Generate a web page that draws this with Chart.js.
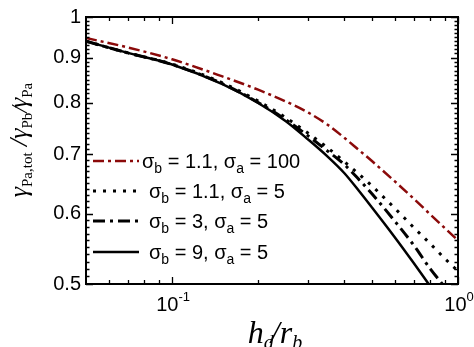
<!DOCTYPE html>
<html>
<head>
<meta charset="utf-8">
<script src="https://cdn.jsdelivr.net/npm/chart.js@4/dist/chart.umd.min.js"></script>
<style>
  html, body { margin: 0; padding: 0; background: #fff; }
  #wrap { width: 474px; height: 347px; }
</style>
</head>
<body>
<div id="wrap"><canvas id="chart"></canvas></div>
<script>
// h_d / r_b values (log axis)
const xVals = [0.05, 0.07, 0.1, 0.15, 0.2, 0.25, 0.3, 0.35, 0.4, 0.45, 0.5, 0.6, 0.7, 0.8, 0.9, 1.0];
// ratio curves
const sb11_sa100 = [0.947, 0.924, 0.896, 0.857, 0.828, 0.803, 0.780, 0.756, 0.731, 0.708, 0.688, 0.653, 0.624, 0.599, 0.578, 0.560];
const sb11_sa5   = [0.939, 0.911, 0.885, 0.843, 0.804, 0.770, 0.739, 0.712, 0.687, 0.665, 0.645, 0.609, 0.579, 0.555, 0.534, 0.517];
const sb3_sa5    = [0.939, 0.911, 0.884, 0.841, 0.801, 0.766, 0.734, 0.706, 0.682, 0.656, 0.632, 0.589, 0.553, 0.520, 0.496, null];
const sb9_sa5    = [0.939, 0.911, 0.884, 0.840, 0.800, 0.763, 0.727, 0.696, 0.667, 0.637, 0.610, 0.565, 0.528, 0.497, null, null];

const yTicks = [0.5, 0.6, 0.7, 0.8, 0.9, 1];
const xMajor = [0.1, 1];
const xMinor = [0.06, 0.07, 0.08, 0.09, 0.2, 0.3, 0.4, 0.5, 0.6, 0.7, 0.8, 0.9];

const legendRows = [
  { b: '1.1', a: '100' },
  { b: '1.1', a: '5' },
  { b: '3', a: '5' },
  { b: '9', a: '5' }
];

function pts(ys) {
  const out = [];
  xVals.forEach((x, i) => { if (ys[i] != null) out.push({ x: x, y: ys[i] }); });
  return out;
}

// draw a run of text pieces with their own font / vertical offset
function richText(ctx, x, y, parts, align) {
  let w = 0;
  parts.forEach(p => { ctx.font = p.font; w += ctx.measureText(p.t).width + (p.kern || 0); });
  let cx = align === 'center' ? x - w / 2 : x;
  ctx.textAlign = 'left';
  ctx.textBaseline = 'alphabetic';
  parts.forEach(p => {
    ctx.font = p.font;
    ctx.fillText(p.t, cx, y + (p.dy || 0));
    cx += ctx.measureText(p.t).width + (p.kern || 0);
  });
  return w;
}

const sans = sz => sz + 'px Arial, "Liberation Sans", sans-serif';
const serifI = sz => 'italic ' + sz + 'px "Liberation Serif", "Times New Roman", serif';
const serif = sz => sz + 'px "Liberation Serif", "Times New Roman", serif';

const decor = {
  id: 'decor',
  afterDraw(chart) {
    const ctx = chart.ctx;
    const a = chart.chartArea;
    const xs = chart.scales.x, ys = chart.scales.y;
    ctx.save();
    ctx.strokeStyle = '#000';
    ctx.fillStyle = '#000';

    // inward ticks on all four sides
    ctx.lineWidth = 1.3;
    ctx.beginPath();
    for (let i = 50; i <= 100; i++) {
      const py = Math.round(ys.getPixelForValue(i / 100)) + 0.5;
      const len = (i % 10 === 0) ? 7 : 3.5;
      ctx.moveTo(a.left, py); ctx.lineTo(a.left + len, py);
      ctx.moveTo(a.right, py); ctx.lineTo(a.right - len, py);
    }
    xMajor.concat(xMinor).forEach(v => {
      const px = Math.round(xs.getPixelForValue(v)) + 0.5;
      const len = xMajor.includes(v) ? 7 : 4;
      ctx.moveTo(px, a.bottom); ctx.lineTo(px, a.bottom - len);
      ctx.moveTo(px, a.top); ctx.lineTo(px, a.top + len);
    });
    ctx.stroke();

    // frame
    ctx.lineWidth = 2;
    ctx.strokeRect(a.left, a.top, a.right - a.left, a.bottom - a.top);

    // x tick labels 10^-1, 10^0
    const sup = ['-1', '0'];
    xMajor.forEach((v, i) => {
      const px = xs.getPixelForValue(v);
      richText(ctx, px + 1, 311, [
        { t: '10', font: sans(20) },
        { t: sup[i], font: sans(13), dy: -10 }
      ], 'center');
    });

    // x title h_d / r_b
    richText(ctx, (a.left + a.right) / 2 + 3, 343, [
      { t: 'h', font: serifI(32) },
      { t: 'd', font: serifI(20), dy: 6, kern: -3 },
      { t: '/', font: serifI(32) },
      { t: 'r', font: serifI(32) },
      { t: 'b', font: serifI(20), dy: 6 }
    ], 'center');

    // y title
    ctx.save();
    ctx.translate(27, 140);
    ctx.rotate(-Math.PI / 2);
    richText(ctx, 0, 0, [
      { t: 'γ', font: serifI(26) },
      { t: 'Pa,tot', font: serif(15), dy: 5 },
      { t: ' /', font: serifI(26) },
      { t: 'γ', font: serifI(26) },
      { t: 'Pb', font: serif(15), dy: 5 },
      { t: '/', font: serifI(24), kern: -2 },
      { t: 'γ', font: serifI(26) },
      { t: 'Pa', font: serif(15), dy: 5 }
    ], 'center');
    ctx.restore();

    // legend inside the plot
    const rowY = [161, 191, 221, 252];
    const textX = [142, 149, 149, 149];
    chart.data.datasets.forEach((ds, i) => {
      const y = rowY[i];
      ctx.save();
      ctx.strokeStyle = ds.borderColor;
      ctx.lineWidth = ds.borderWidth;
      ctx.setLineDash(ds.borderDash || []);
      ctx.beginPath();
      ctx.moveTo(93, y); ctx.lineTo(139, y);
      ctx.stroke();
      ctx.restore();
      const r = legendRows[i];
      richText(ctx, textX[i], y + 7, [
        { t: 'σ', font: sans(20) },
        { t: 'b', font: sans(14), dy: 5 },
        { t: ' = ' + r.b + ', ', font: sans(20) },
        { t: 'σ', font: sans(20) },
        { t: 'a', font: sans(14), dy: 5 },
        { t: ' = ' + r.a, font: sans(20) }
      ], 'left');
    });
    ctx.restore();
  }
};

new Chart(document.getElementById('chart'), {
  type: 'line',
  data: {
    datasets: [
      { data: pts(sb11_sa100), borderColor: '#8b0a0a', borderWidth: 2.5, borderDash: [11, 4, 3, 4] },
      { data: pts(sb11_sa5), borderColor: '#000', borderWidth: 3, borderDash: [3, 7] },
      { data: pts(sb3_sa5), borderColor: '#000', borderWidth: 3, borderDash: [12, 5, 3, 5] },
      { data: pts(sb9_sa5), borderColor: '#000', borderWidth: 2.5 }
    ]
  },
  options: {
    responsive: true,
    maintainAspectRatio: false,
    animation: false,
    layout: { padding: { top: 9, right: 16, left: 0, bottom: 0 } },
    elements: {
      point: { radius: 0 },
      line: { cubicInterpolationMode: 'monotone', fill: false }
    },
    scales: {
      x: {
        type: 'logarithmic',
        min: 0.05,
        max: 1,
        ticks: { display: false },
        grid: { display: false, drawTicks: false },
        border: { display: false },
        afterFit: s => { s.height = 63; }
      },
      y: {
        type: 'logarithmic',
        min: 0.5,
        max: 1,
        afterBuildTicks: s => { s.ticks = yTicks.map(v => ({ value: v })); },
        ticks: {
          color: '#000',
          padding: 5,
          font: { family: 'Arial, "Liberation Sans", sans-serif', size: 20 },
          callback: v => String(v)
        },
        grid: { display: false, drawTicks: false },
        border: { display: false },
        afterFit: s => { s.width = 86; }
      }
    },
    plugins: {
      legend: { display: false },
      tooltip: { enabled: false }
    }
  },
  plugins: [decor]
});
</script>
</body>
</html>
